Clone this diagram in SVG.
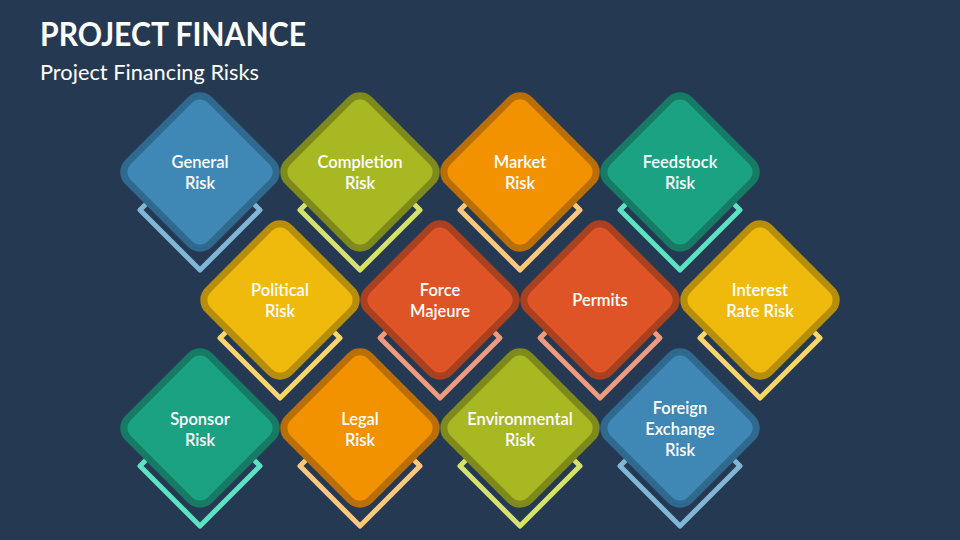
<svg xmlns="http://www.w3.org/2000/svg" xmlns:xlink="http://www.w3.org/1999/xlink" width="960" height="540" viewBox="0 0 960 540">
<style>
.bg{fill:#253a52}
.title{font-family:Lato,"Open Sans","Liberation Sans",sans-serif;font-weight:700;font-size:33px;fill:#ffffff}
.sub{font-family:Lato,"Open Sans","Liberation Sans",sans-serif;font-size:20.5px;font-weight:400;fill:#ffffff}
.lbl{font-family:Lato,"Open Sans","Liberation Sans",sans-serif;font-size:16.5px;font-weight:600;fill:#ffffff;text-anchor:middle}
.dm{stroke-width:7}
.ch{fill:none;stroke-width:5;stroke-linejoin:round;stroke-linecap:round}
.blue .dm{fill:#3f88b6;stroke:#30698e}
.blue .ch{stroke:#82b6d6}
.olive .dm{fill:#a8b823;stroke:#7e8a1b}
.olive .ch{stroke:#d6e36b}
.orange .dm{fill:#f39200;stroke:#b96f06}
.orange .ch{stroke:#fcc87d}
.teal .dm{fill:#1ba283;stroke:#177a64}
.teal .ch{stroke:#5de2c2}
.yellow .dm{fill:#f0ba0c;stroke:#b78e0c}
.yellow .ch{stroke:#f9d66c}
.red .dm{fill:#df5426;stroke:#a9401f}
.red .ch{stroke:#ee9b80}
</style>
<defs>
<rect id="dshape" x="-58" y="-58" width="116" height="116" rx="14" ry="14" transform="rotate(45)"/>
<path id="cshape" d="M-48,26 L-60,38 L0,98 L60,38 L48,26"/>
</defs>
<rect class="bg" x="0" y="0" width="960" height="540"/>
<text class="title" x="40" y="46" textLength="266" lengthAdjust="spacingAndGlyphs">PROJECT FINANCE</text>
<text class="sub" x="40" y="80" textLength="219" lengthAdjust="spacingAndGlyphs">Project Financing Risks</text>

<g id="general-risk" class="blue" transform="translate(200,172)">
<use class="ch" xlink:href="#cshape" href="#cshape"/>
<use class="dm" xlink:href="#dshape" href="#dshape"/>
<text class="lbl" y="-4">General</text><text class="lbl" y="17">Risk</text>
</g>
<g id="completion-risk" class="olive" transform="translate(360,172)">
<use class="ch" xlink:href="#cshape" href="#cshape"/>
<use class="dm" xlink:href="#dshape" href="#dshape"/>
<text class="lbl" y="-4">Completion</text><text class="lbl" y="17">Risk</text>
</g>
<g id="market-risk" class="orange" transform="translate(520,172)">
<use class="ch" xlink:href="#cshape" href="#cshape"/>
<use class="dm" xlink:href="#dshape" href="#dshape"/>
<text class="lbl" y="-4">Market</text><text class="lbl" y="17">Risk</text>
</g>
<g id="feedstock-risk" class="teal" transform="translate(680,172)">
<use class="ch" xlink:href="#cshape" href="#cshape"/>
<use class="dm" xlink:href="#dshape" href="#dshape"/>
<text class="lbl" y="-4">Feedstock</text><text class="lbl" y="17">Risk</text>
</g>

<g id="political-risk" class="yellow" transform="translate(280,300)">
<use class="ch" xlink:href="#cshape" href="#cshape"/>
<use class="dm" xlink:href="#dshape" href="#dshape"/>
<text class="lbl" y="-4">Political</text><text class="lbl" y="17">Risk</text>
</g>
<g id="force-majeure" class="red" transform="translate(440,300)">
<use class="ch" xlink:href="#cshape" href="#cshape"/>
<use class="dm" xlink:href="#dshape" href="#dshape"/>
<text class="lbl" y="-4">Force</text><text class="lbl" y="17">Majeure</text>
</g>
<g id="permits" class="red" transform="translate(600,300)">
<use class="ch" xlink:href="#cshape" href="#cshape"/>
<use class="dm" xlink:href="#dshape" href="#dshape"/>
<text class="lbl" y="6">Permits</text>
</g>
<g id="interest-rate-risk" class="yellow" transform="translate(760,300)">
<use class="ch" xlink:href="#cshape" href="#cshape"/>
<use class="dm" xlink:href="#dshape" href="#dshape"/>
<text class="lbl" y="-4">Interest</text><text class="lbl" y="17">Rate Risk</text>
</g>

<g id="sponsor-risk" class="teal" transform="translate(200,428)">
<use class="ch" xlink:href="#cshape" href="#cshape"/>
<use class="dm" xlink:href="#dshape" href="#dshape"/>
<text class="lbl" y="-3">Sponsor</text><text class="lbl" y="18">Risk</text>
</g>
<g id="legal-risk" class="orange" transform="translate(360,428)">
<use class="ch" xlink:href="#cshape" href="#cshape"/>
<use class="dm" xlink:href="#dshape" href="#dshape"/>
<text class="lbl" y="-3">Legal</text><text class="lbl" y="18">Risk</text>
</g>
<g id="environmental-risk" class="olive" transform="translate(520,428)">
<use class="ch" xlink:href="#cshape" href="#cshape"/>
<use class="dm" xlink:href="#dshape" href="#dshape"/>
<text class="lbl" y="-3">Environmental</text><text class="lbl" y="18">Risk</text>
</g>
<g id="foreign-exchange-risk" class="blue" transform="translate(680,428)">
<use class="ch" xlink:href="#cshape" href="#cshape"/>
<use class="dm" xlink:href="#dshape" href="#dshape"/>
<text class="lbl" y="-14">Foreign</text><text class="lbl" y="7">Exchange</text><text class="lbl" y="28">Risk</text>
</g>
<g id="connectors"></g>
</svg>
